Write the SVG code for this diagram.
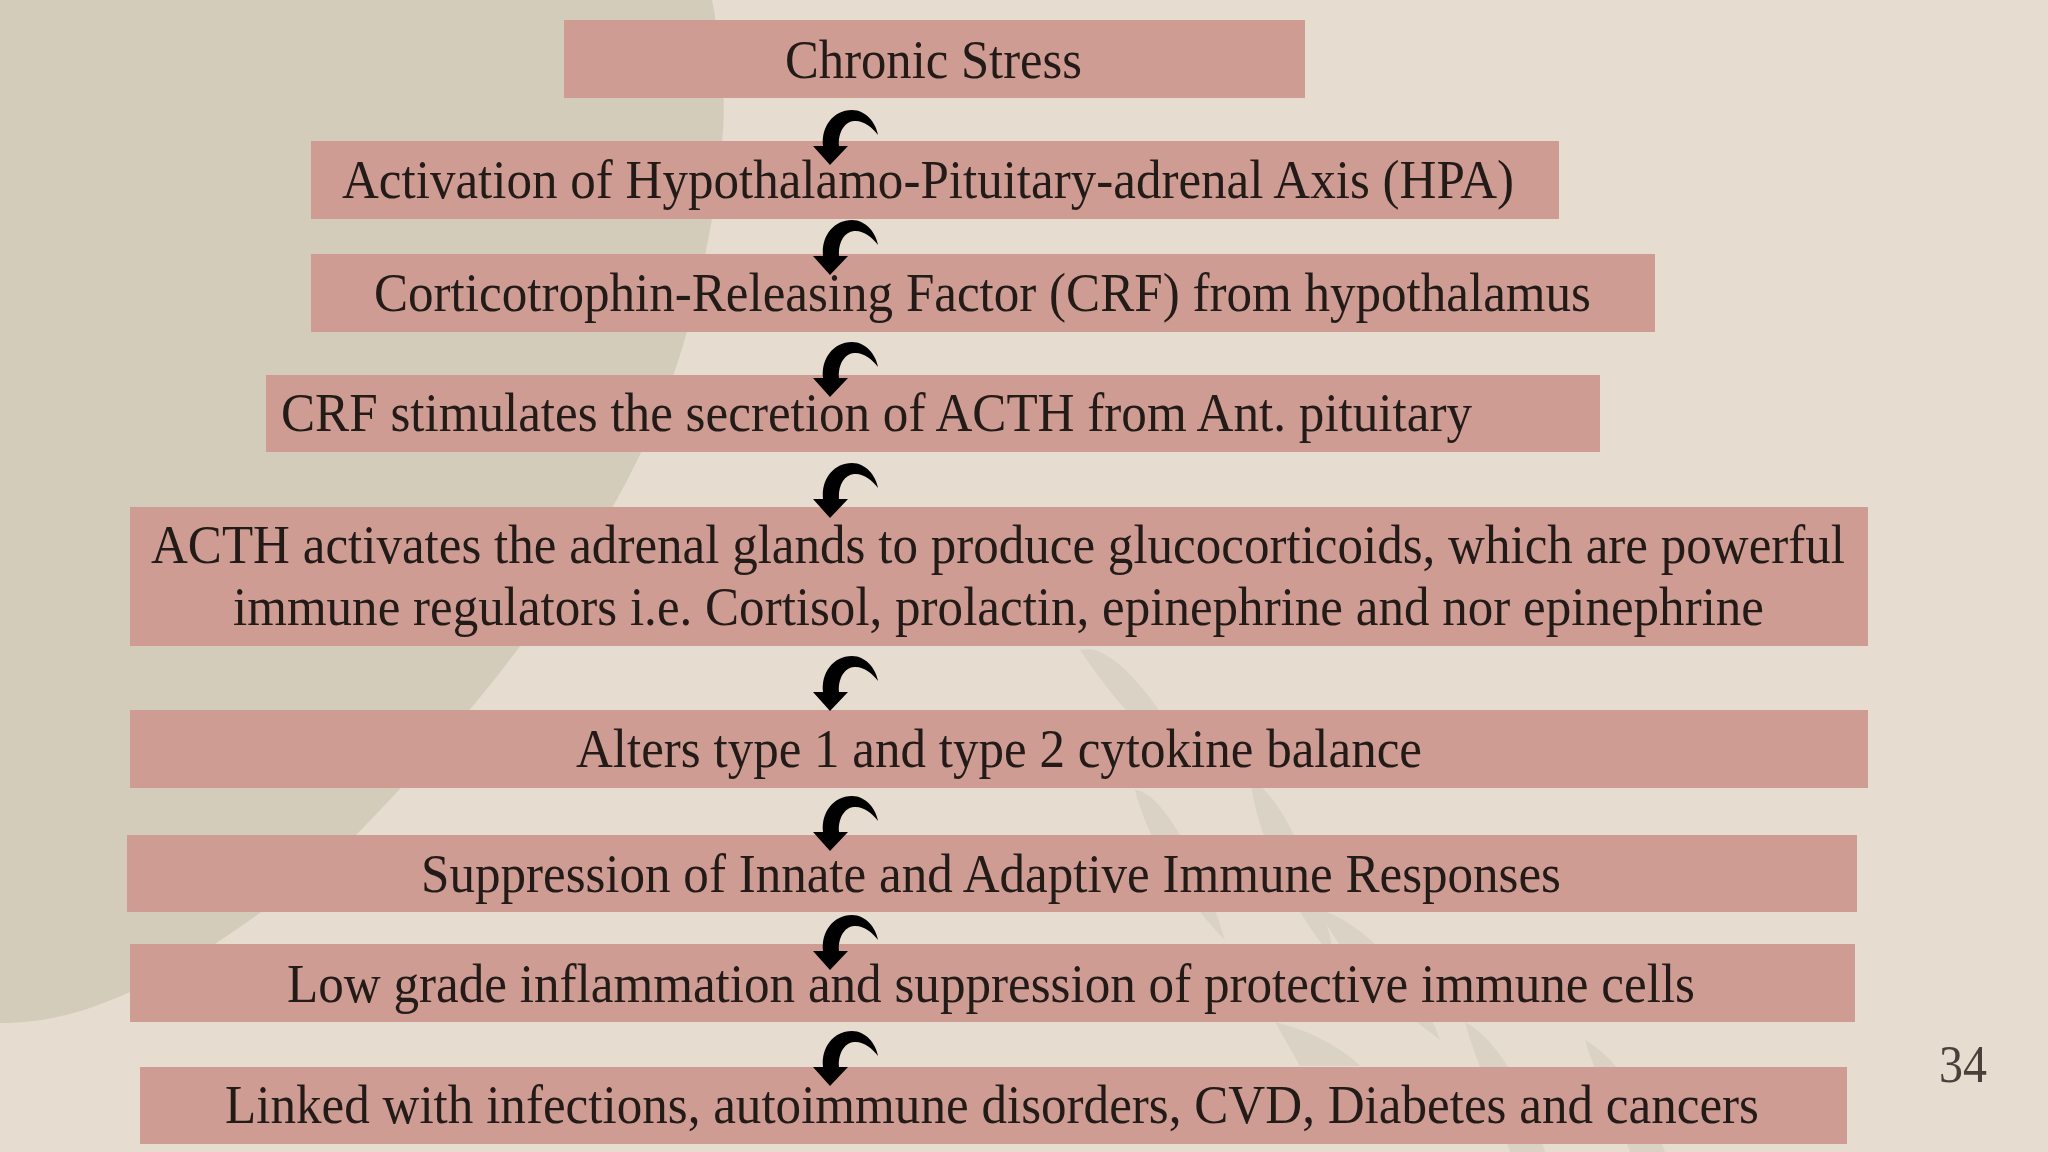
<svg xmlns="http://www.w3.org/2000/svg" width="2048" height="1152" viewBox="0 0 2048 1152">
<defs>
<style>
.box{fill:#cf9c94;}
.lbl{font-family:"Liberation Serif","Times New Roman",serif;font-size:55px;fill:#231b17;}
.leaf{fill:#dad3c5;}
.pg{font-family:"Liberation Serif","Times New Roman",serif;font-size:53px;fill:#4a3f3a;}
</style>
<path id="arrow" d="M0,0 L-17,-19 L-7,-19 C-9,-38 3,-55 22,-55 C36,-55 46,-42 48,-30 C42,-38 33,-45 24,-44 C14,-43 8,-32 9,-19 L18,-19 Z" fill="#000"/>
</defs>
<rect width="2048" height="1152" fill="#e6dccf"/>
<path d="M0,0 L712,0 C720,40 726,90 723,130 C718,200 705,260 690,320 C665,420 610,520 560,590 C500,680 420,770 356,835 C290,895 200,960 130,992 C90,1010 50,1023 0,1023 Z" fill="#d4ccba"/>
<g id="leaves">
<path class="leaf" d="M1080,650 C1110,640 1160,700 1200,780 C1170,760 1120,710 1080,650 Z"/>
<path class="leaf" d="M1135,790 C1160,790 1200,860 1225,940 C1195,910 1150,850 1135,790 Z"/>
<path class="leaf" d="M1250,780 C1280,790 1320,880 1335,960 C1300,920 1260,850 1250,780 Z"/>
<path class="leaf" d="M1320,910 C1360,920 1420,980 1440,1040 C1400,1010 1340,960 1320,910 Z"/>
<path class="leaf" d="M1275,1022 C1310,1030 1345,1050 1360,1066 L1300,1066 Z"/>
<path class="leaf" d="M1465,1022 C1500,1040 1530,1100 1545,1152 L1510,1152 C1495,1100 1475,1060 1465,1022 Z"/>
<path class="leaf" d="M1585,1040 C1620,1060 1650,1110 1665,1152 L1630,1152 C1615,1110 1595,1075 1585,1040 Z"/>
</g>
<g id="n1"><rect class="box" x="564" y="20" width="741" height="78"/><text class="lbl" x="785" y="78" textLength="297" lengthAdjust="spacingAndGlyphs">Chronic Stress</text></g>
<g id="n2"><rect class="box" x="311" y="141" width="1248" height="78"/><text class="lbl" x="342" y="198" textLength="1172" lengthAdjust="spacingAndGlyphs">Activation of Hypothalamo-Pituitary-adrenal Axis (HPA)</text></g>
<g id="n3"><rect class="box" x="311" y="254" width="1344" height="78"/><text class="lbl" x="374" y="311" textLength="1217" lengthAdjust="spacingAndGlyphs">Corticotrophin-Releasing Factor (CRF) from hypothalamus</text></g>
<g id="n4"><rect class="box" x="266" y="375" width="1334" height="77"/><text class="lbl" x="281" y="431" textLength="1191" lengthAdjust="spacingAndGlyphs">CRF stimulates the secretion of ACTH from Ant. pituitary</text></g>
<g id="n5"><rect class="box" x="130" y="507" width="1738" height="139"/><text class="lbl" x="151" y="563" textLength="1694" lengthAdjust="spacingAndGlyphs">ACTH activates the adrenal glands to produce glucocorticoids, which are powerful</text><text class="lbl" x="233" y="625" textLength="1531" lengthAdjust="spacingAndGlyphs">immune regulators i.e. Cortisol, prolactin, epinephrine and nor epinephrine</text></g>
<g id="n6"><rect class="box" x="130" y="710" width="1738" height="78"/><text class="lbl" x="576" y="767" textLength="846" lengthAdjust="spacingAndGlyphs">Alters type 1 and type 2 cytokine balance</text></g>
<g id="n7"><rect class="box" x="127" y="835" width="1730" height="77"/><text class="lbl" x="421" y="892" textLength="1140" lengthAdjust="spacingAndGlyphs">Suppression of Innate and Adaptive Immune Responses</text></g>
<g id="n8"><rect class="box" x="130" y="944" width="1725" height="78"/><text class="lbl" x="287" y="1002" textLength="1408" lengthAdjust="spacingAndGlyphs">Low grade inflammation and suppression of protective immune cells</text></g>
<g id="n9"><rect class="box" x="140" y="1067" width="1707" height="77"/><text class="lbl" x="225" y="1123" textLength="1534" lengthAdjust="spacingAndGlyphs">Linked with infections, autoimmune disorders, CVD, Diabetes and cancers</text></g>
<g id="connectors">
<use href="#arrow" x="830" y="165"/>
<use href="#arrow" x="830" y="275"/>
<use href="#arrow" x="830" y="397"/>
<use href="#arrow" x="830" y="518"/>
<use href="#arrow" x="830" y="711"/>
<use href="#arrow" x="830" y="851"/>
<use href="#arrow" x="830" y="970"/>
<use href="#arrow" x="830" y="1086"/>
</g>
<text class="pg" x="1939" y="1082" textLength="48" lengthAdjust="spacingAndGlyphs">34</text>
</svg>
